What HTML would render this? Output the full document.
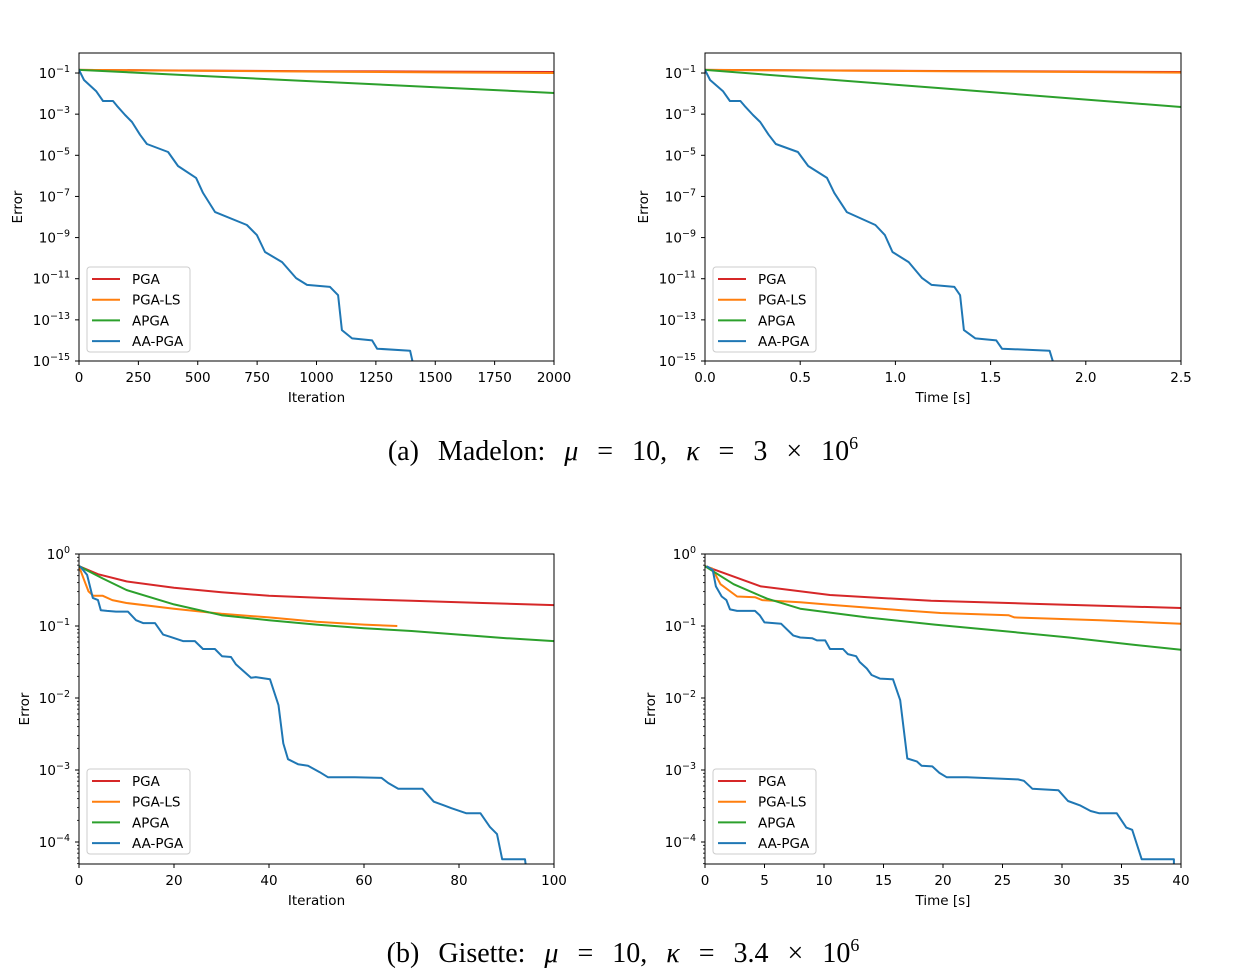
<!DOCTYPE html>
<html><head><meta charset="utf-8">
<style>
body{margin:0;background:#fff;width:1246px;height:971px;overflow:hidden;}
svg{position:absolute;left:0;top:0;}
text{font-family:"DejaVu Sans","Liberation Sans",sans-serif;fill:#000;}
.cap{font-family:"Liberation Serif",serif;font-size:28px;word-spacing:12px;}
</style></head>
<body>
<svg id="fig" width="1246" height="971"></svg>
<script>
// ---- Data (values are log10 of error) ----
const colors = {PGA:'#d62728','PGA-LS':'#ff7f0e',APGA:'#2ca02c','AA-PGA':'#1f77b4'};
const seriesNames = ['PGA','PGA-LS','APGA','AA-PGA'];

// Panel A1: Madelon vs iteration
const a1PgaX = [0, 500, 1000, 1500, 2000];
const a1PgaY = [-0.85, -0.88, -0.91, -0.93, -0.95];
const a1LsX = [0, 500, 1000, 1500, 2000];
const a1LsY = [-0.85, -0.89, -0.93, -0.97, -1.0];
const a1ApgaX = [0, 500, 1000, 1500, 2000];
const a1ApgaY = [-0.85, -1.13, -1.41, -1.69, -1.97];
const a1AaX = [0,21,72,101,143,160,194,223,257,286,375,417,493,522,573,707,749,783,855,914,960,1057,1091,1107,1150,1234,1255,1394,1406];
const a1AaY = [-0.85,-1.34,-1.88,-2.36,-2.36,-2.6,-3.04,-3.38,-4.0,-4.45,-4.84,-5.52,-6.1,-6.83,-7.76,-8.39,-8.88,-9.7,-10.19,-10.97,-11.3,-11.4,-11.8,-13.5,-13.9,-14.0,-14.4,-14.5,-15.1];

// Panel A2: Madelon vs time
const a2PgaX = [0, 1.25, 2.5];
const a2PgaY = [-0.85, -0.9, -0.95];
const a2LsX = [0, 1.25, 2.5];
const a2LsY = [-0.85, -0.91, -0.98];
const a2ApgaX = [0, 1.25, 2.5];
const a2ApgaY = [-0.85, -1.75, -2.65];
const a2AaX = [0,0.027,0.094,0.131,0.186,0.208,0.252,0.29,0.334,0.372,0.488,0.542,0.641,0.679,0.745,0.895,0.945,0.985,1.07,1.14,1.19,1.31,1.34,1.36,1.42,1.53,1.56,1.81,1.83];
const a2AaY = [-0.85,-1.34,-1.88,-2.36,-2.36,-2.6,-3.04,-3.38,-4.0,-4.45,-4.84,-5.52,-6.1,-6.83,-7.76,-8.39,-8.88,-9.7,-10.19,-10.97,-11.3,-11.4,-11.8,-13.5,-13.9,-14.0,-14.4,-14.5,-15.1];

// Panel B1: Gisette vs iteration
const b1PgaX = [0,4,10,20,30,40,55,70,85,100];
const b1PgaY = [-0.17,-0.28,-0.38,-0.47,-0.53,-0.58,-0.62,-0.65,-0.68,-0.71];
const b1LsX = [0,1,2,3,5,7,10,20,30,40,50,60,67];
const b1LsY = [-0.17,-0.35,-0.52,-0.58,-0.58,-0.64,-0.68,-0.76,-0.83,-0.88,-0.94,-0.98,-1.0];
const b1ApgaX = [0,5,10,20,30,40,50,60,70,80,90,100];
const b1ApgaY = [-0.17,-0.34,-0.5,-0.7,-0.85,-0.92,-0.98,-1.03,-1.07,-1.12,-1.17,-1.21];
const b1AaX = [0.2,1.7,2.9,4,4.6,5.9,7.8,10.3,12,13.5,16,17.7,19.2,21.9,24.4,26.1,28.6,30.1,32,33,34.7,36.2,37.2,40.2,42,43,44,46.1,48.2,50.7,52.4,58.1,63.7,65.1,67.2,72.3,74.7,76.8,78.4,81.5,84.5,86.5,88,89.1,93.9,94.1];
const b1AaY = [-0.17,-0.29,-0.61,-0.64,-0.78,-0.79,-0.8,-0.8,-0.92,-0.96,-0.96,-1.12,-1.15,-1.21,-1.21,-1.32,-1.32,-1.42,-1.43,-1.53,-1.63,-1.72,-1.71,-1.74,-2.1,-2.63,-2.85,-2.92,-2.94,-3.03,-3.1,-3.1,-3.11,-3.18,-3.26,-3.26,-3.44,-3.49,-3.53,-3.6,-3.6,-3.79,-3.89,-4.24,-4.24,-4.35];

// Panel B2: Gisette vs time
const b2PgaX = [0,4.7,10.5,19,27.4,40];
const b2PgaY = [-0.17,-0.45,-0.57,-0.65,-0.69,-0.75];
const b2LsX = [0,0.6,1.3,2.7,4.2,4.8,8,10.9,16.5,19.8,25.5,26,33.2,40];
const b2LsY = [-0.17,-0.2,-0.42,-0.59,-0.6,-0.64,-0.67,-0.71,-0.78,-0.82,-0.85,-0.88,-0.92,-0.97];
const b2ApgaX = [0,2.4,5.2,8,13.6,19.3,25,30.6,36,40];
const b2ApgaY = [-0.17,-0.42,-0.62,-0.76,-0.88,-0.98,-1.07,-1.16,-1.26,-1.33];
const b2AaX = [0.14,0.65,0.92,1.4,1.8,2.1,2.7,4.2,4.6,5.0,6.4,7.4,8.0,9.0,9.4,10.1,10.5,11.6,12.0,12.7,13.0,13.6,14.0,14.7,15.8,16.4,17.0,17.8,18.2,19.1,19.7,20.3,22.0,26.3,26.8,27.5,29.7,30.5,31.5,32.4,33.1,34.6,35.4,35.9,36.7,39.4,39.4];
const b2AaY = [-0.17,-0.22,-0.45,-0.59,-0.64,-0.77,-0.79,-0.79,-0.85,-0.95,-0.97,-1.13,-1.16,-1.17,-1.2,-1.2,-1.32,-1.32,-1.39,-1.42,-1.5,-1.59,-1.68,-1.73,-1.74,-2.03,-2.84,-2.88,-2.94,-2.95,-3.04,-3.1,-3.1,-3.13,-3.15,-3.26,-3.28,-3.43,-3.49,-3.57,-3.6,-3.6,-3.8,-3.83,-4.24,-4.24,-4.35];

const xTicksIter = ['0','250','500','750','1000','1250','1500','1750','2000'];
const xTicksTimeA = ['0.0','0.5','1.0','1.5','2.0','2.5'];
const xTicksIterB = ['0','20','40','60','80','100'];
const xTicksTimeB = ['0','5','10','15','20','25','30','35','40'];
const yDecadesA = [-1,-3,-5,-7,-9,-11,-13,-15];
const yDecadesB = [0,-1,-2,-3,-4];

const NS='http://www.w3.org/2000/svg';
const svg=document.getElementById('fig');
function mk(tag,attrs,parent){const e=document.createElementNS(NS,tag);for(const k in attrs)e.setAttribute(k,attrs[k]);(parent||svg).appendChild(e);return e;}

function panel(cfg){
  const g=mk('g',{});
  
  
  const {x0,x1,y0,y1,xmin,xmax,ymin,ymax}=cfg;
  const sx=v=>x0+(v-xmin)/(xmax-xmin)*(x1-x0);
  const sy=v=>y1-(v-ymin)/(ymax-ymin)*(y1-y0);
  const clip='clip-'+cfg.name;
  const cp=mk('clipPath',{id:clip},g);mk('rect',{x:x0,y:y0,width:x1-x0,height:y1-y0},cp);
  cfg.series.forEach(s=>{
    let d='';
    s.x.forEach((v,i)=>{d+=(i?'L':'M')+sx(v).toFixed(1)+','+sy(s.y[i]).toFixed(1);});
    const p=mk('path',{d:d,fill:'none',stroke:colors[s.n],'stroke-width':2,'clip-path':'url(#'+clip+')','stroke-linejoin':'round'},g);
    
    
  });
  const fr=mk('rect',{x:x0,y:y0,width:x1-x0,height:y1-y0,fill:'none',stroke:'#000','stroke-width':1},g);
  
  
  cfg.xt.forEach(lab=>{
    const v=parseFloat(lab);const X=sx(v);
    mk('line',{x1:X,x2:X,y1:y1,y2:y1+4,stroke:'#000'},g);
    const t=mk('text',{x:X,y:y1+21,'text-anchor':'middle','font-size':13.5},g);t.textContent=lab;
    
    
  });
  cfg.yd.forEach(dv=>{
    const Y=sy(dv);
    mk('line',{x1:x0-4,x2:x0,y1:Y,y2:Y,stroke:'#000'},g);
    const t=mk('text',{x:x0-9,y:Y+5,'text-anchor':'end','font-size':13.5},g);
    
    
    const a=mk('tspan',{},t);a.textContent='10';
    const b=mk('tspan',{dy:-6,'font-size':9.5},t);b.textContent=(dv<0?'\u2212'+(-dv):''+dv);
  });
  if(cfg.minor){
    for(let d=Math.floor(ymin);d<ymax;d++){for(let m=2;m<10;m++){const v=d+Math.log10(m);if(v>ymin&&v<ymax){const Y=sy(v);mk('line',{x1:x0-2,x2:x0,y1:Y,y2:Y,stroke:'#000','stroke-width':0.8},g);}}}
  }
  const xl=mk('text',{x:(x0+x1)/2,y:y1+41,'text-anchor':'middle','font-size':13.5},g);xl.textContent=cfg.xlabel;
  
  
  const yx=cfg.ylx, yy=(y0+y1)/2;
  const yl=mk('text',{x:yx,y:yy,'text-anchor':'middle','font-size':13.5,transform:'rotate(-90 '+yx+' '+yy+')'},g);yl.textContent='Error';
  
  
  const lg=mk('g',{},g);
  
  
  const lx=x0+8, ly=cfg.legY;
  mk('rect',{x:lx,y:ly,width:103,height:85,rx:3,fill:'#fff','fill-opacity':0.85,stroke:'#ccc'},lg);
  seriesNames.forEach((n,i)=>{
    const yy2=ly+12+i*20.7;
    mk('line',{x1:lx+5,x2:lx+33,y1:yy2,y2:yy2,stroke:colors[n],'stroke-width':2},lg);
    const t=mk('text',{x:lx+45,y:yy2+5,'font-size':13.5},lg);t.textContent=n;
    
    
  });
}

const topAxis={y0:53,y1:361,ymin:-15,ymax:-15+308/20.57};
const botAxis={y0:554,y1:864,ymin:-310/72,ymax:0};
panel(Object.assign({name:'madelon-iteration-chart',x0:79,x1:554,xmin:0,xmax:2000,xt:xTicksIter,yd:yDecadesA,xlabel:'Iteration',ylx:22,legY:267,minor:false,
  series:[{n:'PGA',x:a1PgaX,y:a1PgaY},{n:'PGA-LS',x:a1LsX,y:a1LsY},{n:'APGA',x:a1ApgaX,y:a1ApgaY},{n:'AA-PGA',x:a1AaX,y:a1AaY}]},topAxis));
panel(Object.assign({name:'madelon-time-chart',x0:705,x1:1181,xmin:0,xmax:2.5,xt:xTicksTimeA,yd:yDecadesA,xlabel:'Time [s]',ylx:648,legY:267,minor:false,
  series:[{n:'PGA',x:a2PgaX,y:a2PgaY},{n:'PGA-LS',x:a2LsX,y:a2LsY},{n:'APGA',x:a2ApgaX,y:a2ApgaY},{n:'AA-PGA',x:a2AaX,y:a2AaY}]},topAxis));
panel(Object.assign({name:'gisette-iteration-chart',x0:79,x1:554,xmin:0,xmax:100,xt:xTicksIterB,yd:yDecadesB,xlabel:'Iteration',ylx:29,legY:769,minor:true,
  series:[{n:'PGA',x:b1PgaX,y:b1PgaY},{n:'PGA-LS',x:b1LsX,y:b1LsY},{n:'APGA',x:b1ApgaX,y:b1ApgaY},{n:'AA-PGA',x:b1AaX,y:b1AaY}]},botAxis));
panel(Object.assign({name:'gisette-time-chart',x0:705,x1:1181,xmin:0,xmax:40,xt:xTicksTimeB,yd:yDecadesB,xlabel:'Time [s]',ylx:655,legY:769,minor:true,
  series:[{n:'PGA',x:b2PgaX,y:b2PgaY},{n:'PGA-LS',x:b2LsX,y:b2LsY},{n:'APGA',x:b2ApgaX,y:b2ApgaY},{n:'AA-PGA',x:b2AaX,y:b2AaY}]},botAxis));
</script>
<svg width="1246" height="971" style="pointer-events:none">
<text class="cap" x="623" y="460" text-anchor="middle">(a) Madelon: <tspan font-style="italic">μ</tspan> = 10, <tspan font-style="italic">κ</tspan> = 3 × 10<tspan dy="-11" font-size="18">6</tspan></text>
<text class="cap" x="623" y="962" text-anchor="middle">(b) Gisette: <tspan font-style="italic">μ</tspan> = 10, <tspan font-style="italic">κ</tspan> = 3.4 × 10<tspan dy="-11" font-size="18">6</tspan></text>
</svg>
</body></html>
